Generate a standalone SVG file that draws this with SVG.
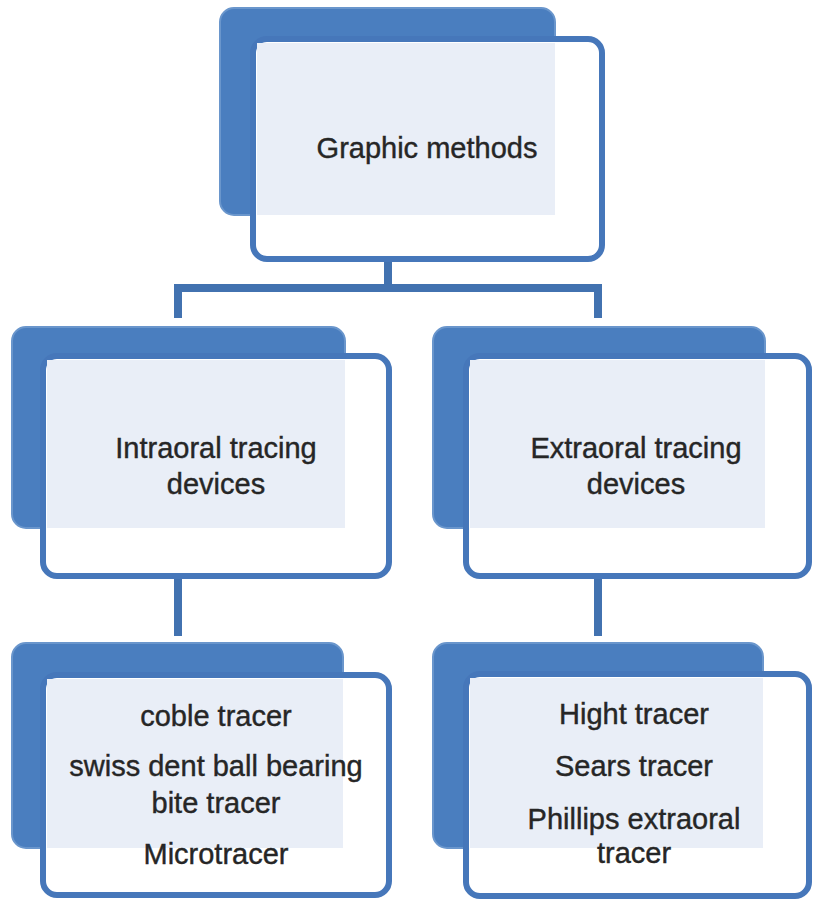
<svg xmlns="http://www.w3.org/2000/svg" width="834" height="913" viewBox="0 0 834 913">
<style>
.back{fill:#4a7ebf;stroke:#6a96cc;stroke-width:2}
.front{fill:#ffffff;stroke:#4677ba;stroke-width:6}
.tint{fill:#e9eef7}
.conn{fill:none;stroke:#4272b0;stroke-width:8}
.lbl{font-family:"Liberation Sans",Arial,sans-serif;font-size:29px;fill:#262626;stroke:#262626;stroke-width:0.4;text-anchor:middle}
</style>
<rect width="834" height="913" fill="#ffffff"/>
<g id="connectors">
<path class="conn" d="M388 260 V288 M178 318 V288 H598 V318"/>
<path class="conn" d="M178 577 V636"/>
<path class="conn" d="M598 577 V636"/>
</g>
<g id="n-graphic">
<rect class="back" x="220" y="8" width="335" height="207" rx="14"/>
<rect class="front" x="253" y="39" width="349" height="220" rx="14"/>
<rect class="tint" x="257" y="43" width="298" height="172"/>
<text class="lbl" x="427" y="158">Graphic methods</text>
</g>
<g id="n-intra">
<rect class="back" x="12" y="327" width="333" height="201" rx="14"/>
<rect class="front" x="43" y="356" width="346" height="220" rx="14"/>
<rect class="tint" x="47" y="360" width="298" height="168"/>
<text class="lbl" x="216" y="458">Intraoral tracing</text>
<text class="lbl" x="216" y="494">devices</text>
</g>
<g id="n-extra">
<rect class="back" x="433" y="327" width="332" height="201" rx="14"/>
<rect class="front" x="466" y="356" width="343" height="220" rx="14"/>
<rect class="tint" x="470" y="360" width="295" height="168"/>
<text class="lbl" x="636" y="458">Extraoral tracing</text>
<text class="lbl" x="636" y="494">devices</text>
</g>
<g id="n-intra-list">
<rect class="back" x="12" y="643" width="331" height="205" rx="14"/>
<rect class="front" x="43" y="675" width="346" height="220" rx="14"/>
<rect class="tint" x="47" y="679" width="296" height="169"/>
<text class="lbl" x="216" y="726">coble tracer</text>
<text class="lbl" x="216" y="776">swiss dent ball bearing</text>
<text class="lbl" x="216" y="813">bite tracer</text>
<text class="lbl" x="216" y="864">Microtracer</text>
</g>
<g id="n-extra-list">
<rect class="back" x="433" y="643" width="330" height="205" rx="14"/>
<rect class="front" x="466" y="674" width="343" height="222" rx="14"/>
<rect class="tint" x="470" y="678" width="293" height="170"/>
<text class="lbl" x="634" y="724">Hight tracer</text>
<text class="lbl" x="634" y="776">Sears tracer</text>
<text class="lbl" x="634" y="829">Phillips extraoral</text>
<text class="lbl" x="634" y="863">tracer</text>
</g>
</svg>
